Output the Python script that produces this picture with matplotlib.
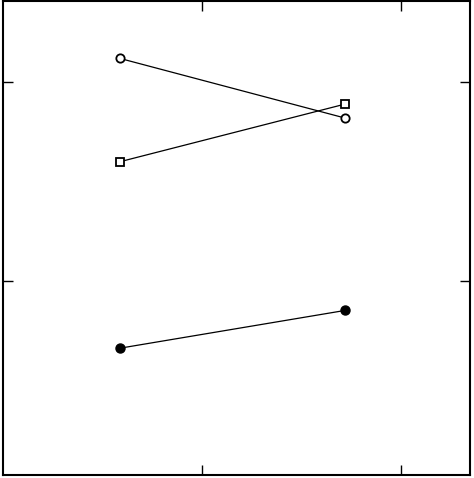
import matplotlib
matplotlib.use("Agg")
import matplotlib.pyplot as plt

# values (arbitrary units, ticks at 1 and 2)
x_pts = [0.59, 1.72]
open_circle = [2.12, 1.82]
open_square = [1.60, 1.89]
filled_circle = [0.66, 0.85]

fig = plt.figure(figsize=(4.74, 4.78), dpi=100)
ax = fig.add_axes([0.006, 0.006, 0.986, 0.992])

ax.plot(x_pts, open_circle, '-o', color='black', lw=0.9, ms=6, mfc='white', mew=1.3)
ax.plot(x_pts, open_square, '-s', color='black', lw=0.9, ms=5.5, mfc='white', mew=1.3)
ax.plot(x_pts, filled_circle, '-o', color='black', lw=0.9, ms=6.5, mfc='black')

ax.set_xlim(0.0, 2.35)
ax.set_ylim(0.02, 2.41)
ax.set_xticks([1, 2])
ax.set_yticks([1, 2])
ax.tick_params(direction='in', length=7, width=1, top=True, right=True,
               labelbottom=False, labelleft=False)
for s in ax.spines.values():
    s.set_linewidth(1.5)

fig.savefig("out.png", dpi=100)
